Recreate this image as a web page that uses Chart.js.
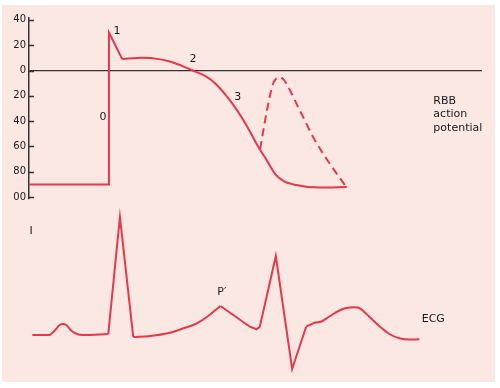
<!DOCTYPE html>
<html>
<head>
<meta charset="utf-8">
<script src="https://cdn.jsdelivr.net/npm/chart.js@4.4.1/dist/chart.umd.min.js"></script>
<style>
body { margin: 0; background: #fff; }
#wrap { position: relative; width: 500px; height: 388px; }
#bg { position: absolute; left: 2px; top: 5px; width: 493px; height: 377px; background: #fce8e2; }
canvas { position: absolute; left: 0; }
#apChart { top: 0; }
#ecgChart { top: 200px; }
</style>
</head>
<body>
<div id="wrap">
  <div id="bg"></div>
  <canvas id="apChart" width="500" height="210"></canvas>
  <canvas id="ecgChart" width="500" height="188"></canvas>
</div>
<script>
// y axis ticks of the action potential (mV)
const tickValues = [40, 20, 0, -20, -40, -60, -80, -100];
const tickLabels = ['40', '20', '0', '20', '40', '60', '80', '00'];

// RBB action potential: time (ms) / membrane potential (mV)
const upTime = [0, 120, 120, 140];
const upMv = [-90, -90, 30, 9];
const apTime = [140, 170, 195, 215, 235, 246, 265, 280, 305, 325, 345, 357, 370, 383, 397, 437, 477];
const apMv = [9, 10, 9, 6.5, 2.5, 0, -4.5, -10.5, -26, -42, -61, -71, -82, -87.5, -90, -92.5, -92];
// early afterdepolarisation (dashed)
const eadTime = [347, 357, 366, 371, 377, 382, 387, 407, 427, 452, 477];
const eadMv = [-62, -32, -11, -6.5, -5.5, -7, -11, -32, -53, -74, -92.5];

// ECG lead I: time (ms) / mV
const ecgTime = [5, 30, 38, 46, 51, 56, 64, 72, 80, 119, 136.5, 156.5, 182, 210, 232, 250, 267, 280, 287.5,
  331.5, 341.5, 346.5, 370.5, 395, 416, 428, 439, 452, 466, 478, 489, 497, 505, 516, 527, 541, 556, 571, 586];
const ecgMv = [0, 0, 0.04, 0.1, 0.11, 0.1, 0.04, 0.01, 0, 0.01, 1.18, -0.02, -0.01, 0.02, 0.067, 0.11, 0.18, 0.25, 0.29,
  0.083, 0.057, 0.083, 0.79, -0.34, 0.083, 0.12, 0.135, 0.19, 0.245, 0.272, 0.277, 0.265, 0.22, 0.15, 0.083, 0.01, -0.033, -0.045, -0.043];
// stretches of the ECG drawn as straight strokes (QRS complexes)
const ecgSharp = [[119, 156.5], [287.5, 416]];

// text labels, anchored in data units
const apNotes = [
  { text: '1', t: 132, v: 31 },
  { text: '0', t: 111, v: -36.5 },
  { text: '2', t: 246, v: 8.7 },
  { text: '3', t: 313.5, v: -21.4 }
];
const apTitle = ['RBB', 'action', 'potential'];
const ecgNotes = [
  { text: 'I', t: 3, v: 1.04 },
  { text: 'P\u2032', t: 289.5, v: 0.43 }
];

const red = '#e8364b';
const ink = '#1a1a1a';
const font = '"DejaVu Sans", sans-serif';

const pts = (xs, ys) => xs.map((x, i) => ({ x: x, y: ys[i] }));

// cut the ECG into smooth and straight pieces sharing their end points
function ecgPieces() {
  const all = pts(ecgTime, ecgMv);
  const cuts = [ecgTime[0]];
  ecgSharp.forEach(r => cuts.push(r[0], r[1]));
  cuts.push(ecgTime[ecgTime.length - 1]);
  const out = [];
  for (let i = 0; i < cuts.length - 1; i++) {
    const sharp = i % 2 === 1;
    out.push({
      data: all.filter(p => p.x >= cuts[i] && p.x <= cuts[i + 1]),
      borderColor: red,
      borderWidth: 2,
      tension: 0,
      cubicInterpolationMode: sharp ? 'default' : 'monotone'
    });
  }
  out.forEach(d => { if (d.cubicInterpolationMode === 'default') delete d.cubicInterpolationMode; });
  return out;
}

const xScale = { type: 'linear', min: 0, max: 680, display: false };

const notesPlugin = (notes, extra) => ({
  id: 'notes',
  afterDatasetsDraw(chart) {
    const c = chart.ctx;
    const sx = chart.scales.x, sy = chart.scales.y;
    c.save();
    c.fillStyle = ink;
    c.font = '11px ' + font;
    c.textAlign = 'center';
    c.textBaseline = 'middle';
    notes.forEach(n => c.fillText(n.text, sx.getPixelForValue(n.t), sy.getPixelForValue(n.v)));
    if (extra) extra(chart, c, sx, sy);
    c.restore();
  }
});

// short ticks pointing into the plot
const innerTicks = {
  id: 'innerTicks',
  afterDraw(chart) {
    const c = chart.ctx;
    const sy = chart.scales.y;
    const x0 = chart.chartArea.left;
    c.save();
    c.strokeStyle = '#333';
    c.lineWidth = 1.5;
    tickValues.forEach(v => {
      const y = Math.round(sy.getPixelForValue(v)) + 0.5;
      c.beginPath();
      c.moveTo(x0, y);
      c.lineTo(x0 + 5, y);
      c.stroke();
    });
    c.restore();
  }
};

new Chart(document.getElementById('apChart'), {
  type: 'line',
  data: {
    datasets: [
      { data: pts(upTime, upMv), borderColor: red, borderWidth: 2, tension: 0 },
      { data: pts(apTime, apMv), borderColor: red, borderWidth: 2, cubicInterpolationMode: 'monotone' },
      { data: pts(eadTime, eadMv), borderColor: red, borderWidth: 2, borderDash: [8, 5], cubicInterpolationMode: 'monotone' }
    ]
  },
  options: {
    responsive: false,
    animation: false,
    devicePixelRatio: 1,
    layout: { padding: { left: 2, right: 18, top: 18, bottom: 11 } },
    elements: { point: { radius: 0 } },
    plugins: { legend: { display: false }, tooltip: { enabled: false } },
    scales: {
      x: xScale,
      y: {
        type: 'linear',
        min: -101.5,
        max: 41.5,
        afterBuildTicks: s => { s.ticks = tickValues.map(v => ({ value: v })); },
        afterFit: s => { s.width = 27; },
        border: { display: true, color: '#333', width: 1.5 },
        grid: { drawTicks: false, lineWidth: 1.3, color: ctx => ctx.tick && ctx.tick.value === 0 ? '#333' : 'transparent' },
        ticks: {
          padding: 3,
          color: ink,
          font: { family: font, size: 10 },
          callback: (v) => tickLabels[tickValues.indexOf(v)]
        }
      }
    }
  },
  plugins: [innerTicks, notesPlugin(apNotes, (chart, c, sx, sy) => {
    c.textAlign = 'left';
    apTitle.forEach((line, i) => c.fillText(line, sx.getPixelForValue(607), sy.getPixelForValue(-23.8) + i * 13.5));
  })]
});

new Chart(document.getElementById('ecgChart'), {
  type: 'line',
  data: { datasets: ecgPieces() },
  options: {
    responsive: false,
    animation: false,
    devicePixelRatio: 1,
    layout: { padding: { left: 29, right: 18, top: 0, bottom: 0 } },
    elements: { point: { radius: 0 } },
    plugins: { legend: { display: false }, tooltip: { enabled: false } },
    scales: {
      x: xScale,
      y: { type: 'linear', min: -0.53, max: 1.35, display: false }
    }
  },
  plugins: [notesPlugin(ecgNotes, (chart, c, sx, sy) => {
    c.textAlign = 'left';
    c.fillText('ECG', sx.getPixelForValue(589.5), sy.getPixelForValue(0.16));
  })]
});
</script>
</body>
</html>
